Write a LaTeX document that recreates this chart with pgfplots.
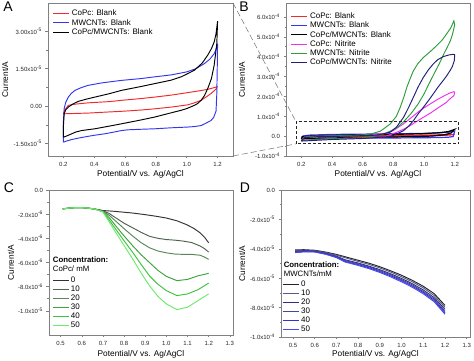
\documentclass[border=0pt]{standalone}
\usepackage{fontspec}
\setmainfont{Liberation Sans}
\usepackage{pgfplots}
\pgfplotsset{compat=1.18}
\definecolor{cRed}{HTML}{F02A2A}
\definecolor{cBlue}{HTML}{3535F0}
\definecolor{cMag}{HTML}{F030F0}
\definecolor{cGreen}{HTML}{2E9E3A}
\definecolor{cNavy}{HTML}{20207A}
\definecolor{g0}{HTML}{333333}
\definecolor{g1}{HTML}{4F634F}
\definecolor{g2}{HTML}{5A875A}
\definecolor{g3}{HTML}{3FA33F}
\definecolor{g4}{HTML}{3CC43C}
\definecolor{g5}{HTML}{6CEA6C}
\definecolor{b0}{HTML}{222233}
\definecolor{b1}{HTML}{5A5A7A}
\definecolor{b2}{HTML}{303078}
\definecolor{b3}{HTML}{4545A8}
\definecolor{b4}{HTML}{3434C8}
\definecolor{b5}{HTML}{4848EE}
\pgfplotsset{
  panel/.style={
    scale only axis,
    clip=false,
    axis line style={black!50, line width=0.6pt},
    tick style={black!50, line width=0.5pt},
    tick align=outside,
    xtick pos=bottom, ytick pos=left,
    major tick length=2.5pt, minor tick length=1.5pt,
    tick label style={font=\fontsize{6}{6.5}\selectfont, text=black!85},
    xticklabel style={/pgf/number format/fixed,/pgf/number format/precision=1,/pgf/number format/fixed zerofill,/pgf/number format/assume math mode=true},
    label style={font=\fontsize{8.3}{9}\selectfont},
    minor x tick num=1,
    minor y tick num=1,
    legend style={draw=none, fill=none, font=\fontsize{8}{9}\selectfont, row sep=-2pt, inner sep=1pt, anchor=north west},
    legend cell align=left,
    legend image code/.code={\draw[##1] (0pt,0pt) -- (16pt,0pt);},
    every axis plot/.append style={line width=0.95pt},
    xlabel={Potential/V vs. Ag/AgCl},
    ylabel={Current/A},
  }
}
\begin{document}
\begin{tikzpicture}
\useasboundingbox (0,0) rectangle (474pt,361pt);
% ---------------- A ----------------
\begin{axis}[panel, name=A, at={(48pt,205pt)}, anchor=south west,
  width=185pt, height=153pt,
  xmin=0.1, xmax=1.3, ymin=-2.0, ymax=4.13,
  xtick={0.2,0.4,0.6,0.8,1.0,1.2},
  ytick={-1.5,0,1.5,3},
  yticklabels={{-1.50x10\textsuperscript{-5}},{0.00},{1.50x10\textsuperscript{-5}},{3.00x10\textsuperscript{-5}}},
  xlabel style={at={(axis description cs:0.5,-0.118)},anchor=center},
  ylabel style={at={(axis description cs:-0.232,0.5)},anchor=center},
  legend style={at={(axis description cs:0.02,0.975)}}]
\addplot[cRed] coordinates {(0.2,-0.31)(0.21,-0.15)(0.232,0.03)(0.28,0.08)(0.362,0.13)(0.5,0.18)(0.577,0.23)(0.7,0.3)(0.792,0.36)(0.9,0.44)(1.007,0.54)(1.07,0.6)(1.136,0.67)(1.196,0.77)
(1.19,0.68)(1.157,0.5)(1.12,0.34)(1.093,0.23)(1.05,0.13)(1.007,0.05)(0.9,-0.04)(0.792,-0.11)(0.7,-0.16)(0.577,-0.21)(0.45,-0.25)(0.362,-0.28)(0.25,-0.3)(0.2,-0.31)};
\addlegendentry{CoPc: Blank}
\addplot[cBlue] coordinates {(0.2,-1.45)(0.2,-0.6)(0.205,-0.1)(0.215,0.15)(0.232,0.36)(0.25,0.5)(0.275,0.63)(0.32,0.75)(0.36,0.83)(0.45,0.93)(0.577,1.03)(0.7,1.1)(0.79,1.17)(0.9,1.25)(1.0,1.37)(1.06,1.5)(1.114,1.70)(1.15,1.88)(1.178,2.1)(1.195,2.35)(1.2,2.5)
(1.198,1.6)(1.195,0.5)(1.19,-0.2)(1.175,-0.45)(1.157,-0.58)(1.12,-0.7)(1.093,-0.78)(1.05,-0.82)(1.007,-0.84)(0.9,-0.87)(0.792,-0.91)(0.7,-0.93)(0.62,-0.95)(0.577,-0.98)(0.52,-1.05)(0.469,-1.11)(0.4,-1.17)(0.362,-1.21)(0.3,-1.28)(0.254,-1.34)(0.22,-1.4)(0.2,-1.45)};
\addlegendentry{MWCNTs: Blank}
\addplot[black] coordinates {(0.2,-1.25)(0.2,-0.8)(0.205,-0.31)(0.215,-0.15)(0.232,-0.04)(0.26,0.08)(0.297,0.19)(0.35,0.28)(0.404,0.36)(0.5,0.5)(0.577,0.63)(0.7,0.78)(0.792,0.90)(0.9,1.04)(0.963,1.17)(1.0,1.28)(1.05,1.44)(1.1,1.72)(1.136,2.04)(1.16,2.3)(1.178,2.57)(1.19,2.9)(1.2,3.4)
(1.195,2.5)(1.178,1.64)(1.16,1.1)(1.136,0.70)(1.115,0.42)(1.093,0.23)(1.07,0.1)(1.05,0.03)(1.0,-0.1)(0.963,-0.17)(0.88,-0.3)(0.792,-0.44)(0.7,-0.56)(0.577,-0.71)(0.5,-0.8)(0.404,-0.91)(0.318,-0.98)(0.28,-1.04)(0.254,-1.11)(0.22,-1.2)(0.2,-1.25)};
\addlegendentry{CoPc/MWCNTs: Blank}
\end{axis}
% ---------------- B ----------------
\begin{axis}[panel, name=B, at={(286pt,205pt)}, anchor=south west,
  width=184pt, height=153pt,
  xmin=0.1, xmax=1.3, ymin=-1.0, ymax=6.7,
  xtick={0.2,0.4,0.6,0.8,1.0,1.2},
  ytick={-1,0,1,2,3,4,5,6},
  yticklabels={{-1.0x10\textsuperscript{-4}},{0.0},{1.0x10\textsuperscript{-4}},{2.0x10\textsuperscript{-4}},{3.0x10\textsuperscript{-4}},{4.0x10\textsuperscript{-4}},{5.0x10\textsuperscript{-4}},{6.0x10\textsuperscript{-4}}},
  xlabel style={at={(axis description cs:0.5,-0.118)},anchor=center},
  ylabel style={at={(axis description cs:-0.239,0.5)},anchor=center},
  legend style={at={(axis description cs:0.02,0.958)}}]
\addplot[cRed, line width=1.2pt] coordinates {(0.2,-0.031)(0.23,0.003)(0.5,0.018)(0.8,0.036)(1.0,0.054)(1.2,0.077)(1.157,0.05)(1.0,0.005)(0.8,-0.011)(0.5,-0.02)(0.2,-0.031)};
\addlegendentry{CoPc: Blank}
\addplot[cBlue, line width=1.2pt] coordinates {(0.2,-0.145)(0.21,0.0)(0.25,0.05)(0.4,0.085)(0.6,0.1)(0.8,0.117)(1.0,0.137)(1.1,0.165)(1.15,0.19)(1.2,0.25)(1.19,-0.02)(1.157,-0.058)(1.0,-0.084)(0.8,-0.091)(0.6,-0.097)(0.4,-0.117)(0.25,-0.134)(0.2,-0.145)};
\addlegendentry{MWCNTs: Blank}
\addplot[black, line width=1.2pt] coordinates {(0.2,-0.125)(0.21,-0.02)(0.3,0.02)(0.5,0.05)(0.7,0.078)(0.9,0.104)(1.0,0.128)(1.1,0.172)(1.16,0.23)(1.2,0.34)(1.178,0.164)(1.136,0.07)(1.05,0.003)(0.9,-0.03)(0.7,-0.056)(0.5,-0.08)(0.3,-0.1)(0.2,-0.125)};
\addlegendentry{CoPc/MWCNTs: Blank}
\addplot[cMag] coordinates {(0.2,-0.2)(0.22,-0.05)(0.3,0.0)(0.5,0.02)(0.65,0.05)(0.75,0.15)(0.8,0.28)(0.867,0.62)(0.92,0.95)(0.974,1.29)(1.03,1.57)(1.082,1.82)(1.13,2.02)(1.168,2.17)(1.195,2.24)(1.2,2.2)
(1.195,2.04)(1.17,1.88)(1.146,1.70)(1.082,1.37)(1.04,1.15)(0.996,0.95)(0.95,0.73)(0.91,0.53)(0.87,0.36)(0.824,0.2)(0.78,0.08)(0.74,-0.04)(0.6,-0.1)(0.4,-0.13)(0.2,-0.2)};
\addlegendentry{CoPc: Nitrite}
\addplot[cGreen] coordinates {(0.2,-0.22)(0.22,-0.05)(0.3,0.0)(0.5,0.03)(0.6,0.06)(0.65,0.1)(0.716,0.25)(0.781,0.62)(0.82,1.0)(0.845,1.45)(0.87,2.0)(0.888,2.46)(0.91,2.9)(0.931,3.29)(0.96,3.65)(0.996,3.96)(1.04,4.25)(1.082,4.55)(1.12,4.85)(1.146,5.13)(1.175,5.45)(1.195,5.8)
(1.2,5.6)(1.185,5.1)(1.172,4.8)(1.15,4.45)(1.129,4.13)(1.1,3.65)(1.065,3.13)(1.03,2.6)(1.0,2.12)(0.96,1.6)(0.914,1.12)(0.87,0.75)(0.828,0.45)(0.78,0.25)(0.742,0.12)(0.7,0.02)(0.6,-0.08)(0.4,-0.12)(0.2,-0.22)};
\addlegendentry{MWCNTs: Nitrite}
\addplot[cNavy] coordinates {(0.2,-0.25)(0.22,-0.08)(0.3,-0.03)(0.5,0.0)(0.7,0.05)(0.78,0.2)(0.82,0.45)(0.867,0.95)(0.9,1.45)(0.931,1.96)(0.96,2.45)(0.996,2.96)(1.03,3.35)(1.06,3.63)(1.09,3.85)(1.125,4.0)(1.16,4.08)(1.19,4.12)(1.2,4.1)
(1.198,3.8)(1.185,3.5)(1.17,3.3)(1.145,3.0)(1.125,2.8)(1.09,2.45)(1.06,2.12)(1.03,1.8)(0.996,1.45)(0.96,1.1)(0.931,0.78)(0.9,0.5)(0.867,0.28)(0.82,0.1)(0.78,-0.02)(0.6,-0.12)(0.4,-0.17)(0.2,-0.25)};
\addlegendentry{CoPc/MWCNTs: Nitrite}
\draw[black!85, dashed, line width=0.9pt, dash pattern=on 3pt off 2pt] (axis cs:0.165,-0.39) rectangle (axis cs:1.225,0.73);
\coordinate (Rtl) at (axis cs:0.165,0.73);
\coordinate (Rbl) at (axis cs:0.165,-0.39);
\end{axis}
\draw[black!55, line width=0.5pt, dash pattern=on 6pt off 3pt] (A.north east) -- (Rtl);
\draw[black!55, line width=0.5pt, dash pattern=on 6pt off 3pt] (A.south east) -- (Rbl);
% ---------------- C ----------------
\begin{axis}[panel, at={(49pt,26pt)}, anchor=south west,
  width=184pt, height=145pt,
  xmin=0.445, xmax=1.315, ymin=-12, ymax=0,
  xtick={0.5,0.6,0.7,0.8,0.9,1.0,1.1,1.2,1.3},
  ytick={-10,-8,-6,-4,-2,0},
  yticklabels={{-1.0x10\textsuperscript{-5}},{-8.0x10\textsuperscript{-6}},{-6.0x10\textsuperscript{-6}},{-4.0x10\textsuperscript{-6}},{-2.0x10\textsuperscript{-6}},{0.0}},
  xlabel style={at={(axis description cs:0.5,-0.131)},anchor=center},
  ylabel style={at={(axis description cs:-0.207,0.5)},anchor=center},
  legend style={at={(axis description cs:0.01,0.425)}}]
\addplot[g0] coordinates {(0.51,-1.56)(0.55,-1.48)(0.58,-1.45)(0.62,-1.48)(0.66,-1.57)(0.7,-1.7)(0.75,-1.76)(0.8,-1.84)(0.842,-1.91)(0.9,-2.04)(0.95,-2.17)(1.0,-2.32)(1.05,-2.55)(1.096,-2.87)(1.13,-3.18)(1.16,-3.55)(1.18,-3.9)(1.2,-4.37)};
\addlegendentry{0}
\addplot[g1] coordinates {(0.51,-1.56)(0.55,-1.48)(0.58,-1.45)(0.62,-1.48)(0.66,-1.57)(0.7,-1.72)(0.73,-1.95)(0.762,-2.32)(0.8,-2.75)(0.842,-3.14)(0.88,-3.5)(0.92,-3.83)(0.96,-4.0)(1.0,-4.1)(1.04,-4.15)(1.08,-4.23)(1.12,-4.35)(1.16,-4.64)(1.18,-4.85)(1.2,-5.14)};
\addlegendentry{10}
\addplot[g2] coordinates {(0.51,-1.56)(0.55,-1.48)(0.58,-1.45)(0.62,-1.48)(0.66,-1.57)(0.7,-1.75)(0.73,-2.1)(0.762,-2.6)(0.8,-3.2)(0.842,-3.83)(0.88,-4.35)(0.92,-4.78)(0.96,-5.05)(1.0,-5.2)(1.04,-5.3)(1.08,-5.33)(1.12,-5.33)(1.16,-5.4)(1.18,-5.55)(1.2,-5.74)};
\addlegendentry{20}
\addplot[g3] coordinates {(0.51,-1.56)(0.55,-1.48)(0.58,-1.45)(0.62,-1.48)(0.66,-1.57)(0.7,-1.78)(0.73,-2.3)(0.762,-3.0)(0.8,-3.8)(0.842,-4.64)(0.88,-5.35)(0.92,-6.0)(0.96,-6.65)(1.0,-7.15)(1.05,-7.5)(1.1,-7.4)(1.15,-7.1)(1.2,-6.9)};
\addlegendentry{30}
\addplot[g4] coordinates {(0.51,-1.56)(0.55,-1.48)(0.58,-1.45)(0.62,-1.48)(0.66,-1.57)(0.7,-1.8)(0.73,-2.5)(0.762,-3.28)(0.8,-4.2)(0.842,-5.19)(0.88,-6.15)(0.92,-7.1)(0.96,-7.8)(1.0,-8.33)(1.05,-8.74)(1.1,-8.6)(1.15,-8.25)(1.2,-7.7)};
\addlegendentry{40}
\addplot[g5] coordinates {(0.51,-1.56)(0.55,-1.48)(0.58,-1.45)(0.62,-1.48)(0.66,-1.57)(0.7,-1.82)(0.73,-2.65)(0.762,-3.55)(0.8,-4.6)(0.842,-5.74)(0.88,-6.85)(0.92,-7.92)(0.96,-8.8)(1.0,-9.43)(1.05,-9.9)(1.1,-9.7)(1.15,-9.15)(1.2,-8.6)};
\addlegendentry{50}
\node[anchor=west, font=\fontsize{7.8}{8.5}\selectfont\bfseries, inner sep=0pt] at (axis description cs:0.02,0.517) {Concentration:};
\node[anchor=west, font=\fontsize{7.8}{8.5}\selectfont, inner sep=0pt] at (axis description cs:0.02,0.458) {CoPc/ mM};
\end{axis}
% ---------------- D ----------------
\begin{axis}[panel, at={(281pt,24pt)}, anchor=south west,
  width=189pt, height=147pt,
  xmin=0.445, xmax=1.315, ymin=-10, ymax=0,
  xtick={0.5,0.6,0.7,0.8,0.9,1.0,1.1,1.2,1.3},
  ytick={-10,-8,-6,-4,-2,0},
  yticklabels={{-1.0x10\textsuperscript{-4}},{-8.0x10\textsuperscript{-5}},{-6.0x10\textsuperscript{-5}},{-4.0x10\textsuperscript{-5}},{-2.0x10\textsuperscript{-5}},{0.0}},
  xlabel style={at={(axis description cs:0.5,-0.116)},anchor=center},
  ylabel style={at={(axis description cs:-0.206,0.5)},anchor=center},
  legend style={at={(axis description cs:0.0,0.405)}}]
\addplot[b0] coordinates {(0.51,-4.08)(0.55,-4.06)(0.6,-4.1)(0.65,-4.22)(0.7,-4.38)(0.75,-4.58)(0.8,-4.78)(0.85,-4.98)(0.9,-5.22)(0.95,-5.5)(1.0,-5.8)(1.05,-6.15)(1.1,-6.55)(1.15,-7.05)(1.2,-7.85)};
\addlegendentry{0}
\addplot[b1] coordinates {(0.51,-4.12)(0.55,-4.1)(0.6,-4.13)(0.65,-4.25)(0.7,-4.43)(0.75,-4.65)(0.8,-4.86)(0.85,-5.06)(0.9,-5.3)(0.95,-5.58)(1.0,-5.9)(1.05,-6.25)(1.1,-6.66)(1.15,-7.18)(1.2,-7.98)};
\addlegendentry{10}
\addplot[b2] coordinates {(0.51,-4.18)(0.55,-4.14)(0.6,-4.16)(0.65,-4.3)(0.7,-4.5)(0.74,-4.75)(0.8,-4.97)(0.85,-5.18)(0.9,-5.42)(0.95,-5.7)(1.0,-6.02)(1.05,-6.38)(1.1,-6.8)(1.15,-7.32)(1.2,-8.12)};
\addlegendentry{20}
\addplot[b3] coordinates {(0.51,-4.22)(0.55,-4.17)(0.6,-4.18)(0.65,-4.32)(0.7,-4.52)(0.74,-4.8)(0.8,-5.02)(0.85,-5.23)(0.9,-5.48)(0.95,-5.77)(1.0,-6.1)(1.05,-6.46)(1.1,-6.9)(1.15,-7.42)(1.2,-8.25)};
\addlegendentry{30}
\addplot[b4] coordinates {(0.51,-4.24)(0.55,-4.19)(0.6,-4.2)(0.65,-4.35)(0.7,-4.56)(0.74,-4.86)(0.8,-5.08)(0.85,-5.29)(0.9,-5.55)(0.95,-5.84)(1.0,-6.17)(1.05,-6.54)(1.1,-6.98)(1.15,-7.51)(1.2,-8.35)};
\addlegendentry{40}
\addplot[b5] coordinates {(0.51,-4.26)(0.55,-4.21)(0.6,-4.22)(0.65,-4.37)(0.7,-4.6)(0.74,-4.9)(0.8,-5.13)(0.85,-5.35)(0.9,-5.61)(0.95,-5.91)(1.0,-6.25)(1.05,-6.62)(1.1,-7.06)(1.15,-7.6)(1.2,-8.45)};
\addlegendentry{50}
\node[anchor=west, font=\fontsize{7.8}{8.5}\selectfont\bfseries, inner sep=0pt] at (axis description cs:0.014,0.495) {Concentration:};
\node[anchor=west, font=\fontsize{7.8}{8.5}\selectfont, inner sep=0pt] at (axis description cs:0.014,0.433) {MWCNTs/mM};
\end{axis}
% panel letters
\node[font=\fontsize{14}{14}\selectfont, anchor=center] at (8pt,354pt) {A};
\node[font=\fontsize{14}{14}\selectfont, anchor=center] at (244pt,354pt) {B};
\node[font=\fontsize{14}{14}\selectfont, anchor=center] at (9pt,173pt) {C};
\node[font=\fontsize{14}{14}\selectfont, anchor=center] at (245pt,173pt) {D};
\end{tikzpicture}
\end{document}
